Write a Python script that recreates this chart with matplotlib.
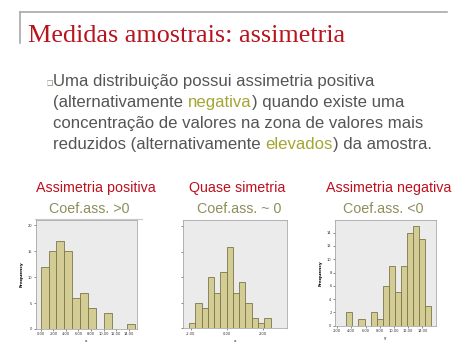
import numpy as np
import matplotlib
matplotlib.use("Agg")
from matplotlib import pyplot as plt

W, H = 474, 355

# histogram data (bin left edges, bin width, counts)
pos_edges = [0.0, 1.25, 2.5, 3.75, 5.0, 6.25, 7.5, 8.75, 10.0, 11.25, 12.5, 13.75]
pos_width = 1.25
pos_counts = [12, 15, 17, 15, 6, 7, 4, 0, 3, 0, 0, 1]
pos_xticks = [0, 2, 4, 6, 8, 10, 12, 14]
pos_yticks = [0, 5, 10, 15, 20]

sym_edges = [-2.1, -1.75, -1.4, -1.05, -0.7, -0.35, 0.0, 0.35, 0.7, 1.05, 1.4, 1.75, 2.1]
sym_width = 0.35
sym_counts = [1, 5, 4, 10, 7, 11, 16, 7, 9, 5, 2, 1, 2]
sym_xticks = [-2, 0, 2]
sym_yticks = [0, 5, 10, 15, 20]

neg_edges = [3.3, 4.15, 5.0, 5.85, 6.7, 7.55, 8.4, 9.25, 10.1, 10.95, 11.8, 12.65, 13.5, 14.35]
neg_width = 0.85
neg_counts = [2, 0, 1, 0, 2, 1, 6, 9, 5, 9, 14, 15, 13, 3]
neg_xticks = [2, 4, 6, 8, 10, 12, 14]
neg_yticks = [0, 2, 4, 6, 8, 10, 12, 14]

title = "Medidas amostrais: assimetria"
headers = ["Assimetria positiva", "Quase simetria", "Assimetria negativa"]
coefs = ["Coef.ass. >0", "Coef.ass. ~ 0", "Coef.ass. <0"]

red = "#B8141E"
grey_txt = "#555555"
olive = "#A5A535"
coef_col = "#8E8E5C"
bar_col = "#D3CC95"
bar_edge = "#7C7748"
bg_col = "#EBEBEB"


def fx(x):
    return x / W


def fy(y):
    return 1 - y / H


fig = plt.figure(figsize=(W / 100, H / 100), dpi=100)
fig.patch.set_facecolor("white")

# title frame lines
fig.add_artist(plt.Line2D([fx(19.5), fx(447)], [fy(12), fy(12)], color="#A8A8A8", lw=1.2))
fig.add_artist(plt.Line2D([fx(19.5), fx(19.5)], [fy(12), fy(43)], color="#A8A8A8", lw=1.2))
fig.text(fx(28.5), fy(42), title, family="Liberation Serif", fontsize=18.8, color=red, va="baseline")

# bullet paragraph
fig.text(fx(46.5), fy(84.5), "\u2751", family="DejaVu Sans", fontsize=5, color="#8C7A6A", va="baseline")

body = [
    [("Uma distribuição possui assimetria positiva", grey_txt)],
    [("(alternativamente ", grey_txt), ("negativa", olive), (") quando existe uma", grey_txt)],
    [("concentração de valores na zona de valores mais", grey_txt)],
    [("reduzidos (alternativamente ", grey_txt), ("elevados", olive), (") da amostra.", grey_txt)],
]
baselines = [86, 107.3, 128.3, 149.3]

renderer = fig.canvas.get_renderer()
for parts, yb in zip(body, baselines):
    x = 53.3
    for txt, col in parts:
        t = fig.text(fx(x), fy(yb), txt, family="Liberation Sans", fontsize=12.1,
                     color=col, va="baseline")
        bb = t.get_window_extent(renderer=renderer)
        x += bb.width

# column headers
for cx, s in zip([96, 237, 389], headers):
    fig.text(fx(cx), fy(191.7), s, family="Liberation Sans", fontsize=10.3, color="#C0101E",
             ha="center", va="baseline")
for cx, s in zip([89, 239, 383], coefs):
    fig.text(fx(cx), fy(212.8), s, family="Liberation Sans", fontsize=10.3, color=coef_col,
             ha="center", va="baseline")
fig.add_artist(plt.Line2D([fx(35), fx(142)], [fy(219), fy(219)], color="#C8C8C8", lw=0.8))


def hist(rect, edges, width, counts, xticks, yticks, xlim, ylim, xlabel, ylabel, ylabels=True):
    ax = fig.add_axes(rect)
    ax.set_facecolor(bg_col)
    ax.bar(edges, counts, width=width, align="edge", color=bar_col,
           edgecolor=bar_edge, linewidth=0.6)
    ax.set_xlim(*xlim)
    ax.set_ylim(*ylim)
    ax.set_xticks(xticks)
    ax.set_xticklabels([f"{v:.2f}" for v in xticks])
    ax.set_yticks(yticks)
    if ylabels:
        ax.set_yticklabels([str(v) for v in yticks])
    else:
        ax.set_yticklabels([])
    ax.tick_params(labelsize=2.6, length=1.5, width=0.4, pad=1, colors="#333333")
    for sp in ax.spines.values():
        sp.set_linewidth(0.5)
        sp.set_color("#9A9A9A")
    ax.set_xlabel(xlabel, fontsize=3, labelpad=2)
    if ylabel:
        ax.set_ylabel(ylabel, fontsize=3.2, fontweight="bold", labelpad=3)
    return ax


hist([36 / W, 1 - 329 / H, 101 / W, 109 / H], pos_edges, pos_width, pos_counts,
     pos_xticks, pos_yticks, (-0.75, 15.3), (0, 21), "x", "Frequency")
hist([183.3 / W, 1 - 328.3 / H, 103.4 / W, 108.3 / H], sym_edges, sym_width, sym_counts,
     sym_xticks, sym_yticks, (-2.42, 3.35), (0, 21.2), "x", None, ylabels=False)
hist([335 / W, 1 - 325.7 / H, 101 / W, 105.7 / H], neg_edges, neg_width, neg_counts,
     neg_xticks, neg_yticks, (1.7, 15.9), (0, 15.9), "y", "Frequency")

fig.savefig("out.png", dpi=100)
